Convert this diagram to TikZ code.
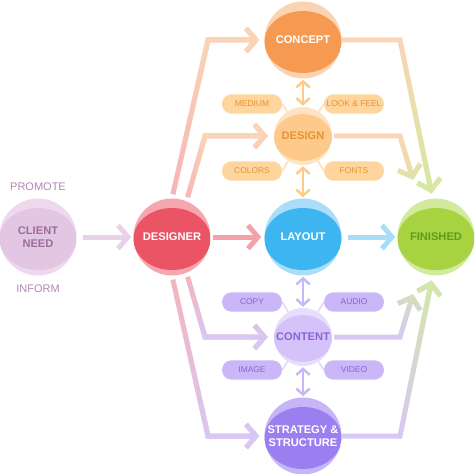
\documentclass[tikz,border=0pt]{standalone}
\usepackage{fontspec}
\setmainfont{Liberation Sans}
\usetikzlibrary{arrows.meta,backgrounds,fadings}

\definecolor{clientO}{HTML}{EDD8ED}
\definecolor{clientI}{HTML}{E2C6E2}
\definecolor{clientT}{HTML}{9E6D9E}
\definecolor{designerO}{HTML}{F5A7AF}
\definecolor{designerI}{HTML}{EA5464}
\definecolor{conceptO}{HTML}{FCD3B0}
\definecolor{conceptI}{HTML}{F69A52}
\definecolor{designO}{HTML}{FEE4C4}
\definecolor{designI}{HTML}{FDCA8C}
\definecolor{designT}{HTML}{E69433}
\definecolor{layoutO}{HTML}{ABDDF8}
\definecolor{layoutI}{HTML}{3DB5F0}
\definecolor{contentO}{HTML}{E8DEFB}
\definecolor{contentI}{HTML}{D4C3F8}
\definecolor{contentT}{HTML}{8A63D6}
\definecolor{strategyO}{HTML}{C6B6F8}
\definecolor{strategyI}{HTML}{9B7FF1}
\definecolor{finishedO}{HTML}{D2EA9E}
\definecolor{finishedI}{HTML}{A6D33F}
\definecolor{finishedT}{HTML}{5F9C1C}
\definecolor{pillOr}{HTML}{FDD59D}
\definecolor{pillPu}{HTML}{CAB7F8}
\definecolor{sideT}{HTML}{B586B5}
\definecolor{flowClient}{HTML}{E8D2EA}
\definecolor{flowRed}{HTML}{F4A2AA}
\definecolor{flowPink}{HTML}{F6B4B8}
\definecolor{flowPeach}{HTML}{FCD5B5}
\definecolor{flowLav}{HTML}{D8C8F6}
\definecolor{flowGreen}{HTML}{D3EAA2}
\definecolor{flowBlue}{HTML}{A9DCF8}

\tikzset{
	bub/.style 2 args={circle, inner sep=0pt, minimum size=23.1mm, fill=#1O, text=#2,
		align=center, font=\fontsize{9.5}{11}\selectfont\bfseries,
		path picture={\fill[#1I] ([yshift=-0.6mm]path picture bounding box.center)
			ellipse [x radius=11.55mm, y radius=9.3mm];}},
	smallbub/.style 2 args={circle, inner sep=0pt, minimum size=17.4mm, fill=#1O, text=#2,
		align=center, font=\fontsize{9.5}{11}\selectfont\bfseries,
		path picture={\fill[#1I] ([yshift=-0.45mm]path picture bounding box.center)
			ellipse [x radius=8.7mm, y radius=7mm];}},
	pill/.style 2 args={rectangle, rounded corners=2.85mm, minimum width=18mm,
		minimum height=5.8mm, inner sep=0pt, fill=#1, text=#2,
		font=\fontsize{7.2}{8}\selectfont},
	side/.style={text=sideT, font=\fontsize{9.4}{11}\selectfont},
	flow/.style={line width=1.5mm, -{Straight Barb[length=3mm, width=7mm]}},
	dbl/.style={line width=0.75mm, {Straight Barb[length=1.8mm, width=4mm]}-{Straight Barb[length=1.8mm, width=4mm]},
		shorten <=0.3mm, shorten >=0.3mm},
	tie/.style={line width=0.6mm}
}

% two coloured copies of one path, the second faded in
\newcommand\flowline[5]{%
	\draw[flow,#1,#4] #5;
	\draw[flow,#2,#4,path fading=#3] #5;}

\begin{document}
\begin{tikzpicture}[x=0.3mm, y=-0.3mm]
	\useasboundingbox (0,0) rectangle (474,474);
	
	% circles
	\node[bub={client}{clientT}] (client) at (38,237) {CLIENT\\NEED};
	\node[bub={designer}{white}] (designer) at (172,237) {DESIGNER};
	\node[bub={concept}{white}] (concept) at (303,40) {CONCEPT};
	\node[smallbub={design}{designT}] (design) at (303,136) {DESIGN};
	\node[bub={layout}{white}] (layout) at (303,237) {LAYOUT};
	\node[smallbub={content}{contentT}] (content) at (303,337) {CONTENT};
	\node[bub={strategy}{white}] (strategy) at (303,436) {STRATEGY \&\\STRUCTURE};
	\node[bub={finished}{finishedT}] (finished) at (436,237) {FINISHED};
	
	\node[side] (promote) at (38,187) {PROMOTE};
	\node[side] (inform) at (38,289) {INFORM};
	
	% pills
	\node[pill={pillOr}{designT}] (medium) at (252,104) {MEDIUM};
	\node[pill={pillOr}{designT}] (look) at (354,104) {LOOK \& FEEL};
	\node[pill={pillOr}{designT}] (colors) at (252,171) {COLORS};
	\node[pill={pillOr}{designT}] (fonts) at (354,171) {FONTS};
	\node[pill={pillPu}{contentT}] (copy) at (252,302) {COPY};
	\node[pill={pillPu}{contentT}] (audio) at (354,302) {AUDIO};
	\node[pill={pillPu}{contentT}] (image) at (252,370) {IMAGE};
	\node[pill={pillPu}{contentT}] (video) at (354,370) {VIDEO};
	
	\begin{scope}[on background layer]
		\draw[tie, designO] (medium.east) -- (design);
		\draw[tie, designO] (look.west) -- (design);
		\draw[tie, designO] (colors.east) -- (design);
		\draw[tie, designO] (fonts.west) -- (design);
		\draw[tie, contentO] (copy.east) -- (content);
		\draw[tie, contentO] (audio.west) -- (content);
		\draw[tie, contentO] (image.east) -- (content);
		\draw[tie, contentO] (video.west) -- (content);
	\end{scope}
	
	% up and down
	\draw[dbl, designI] (concept) -- (design);
	\draw[dbl, designI] (design) -- (layout);
	\draw[dbl, pillPu] (layout) -- (content);
	\draw[dbl, pillPu] (content) -- (strategy);
	
	% bends
	\coordinate (lc1) at (208,40);
	\coordinate (lc2) at (205,136);
	\coordinate (lc3) at (205,337);
	\coordinate (lc4) at (208,436);
	\coordinate (rc1) at (400,40);
	\coordinate (rc2) at (400,136);
	\coordinate (rc3) at (400,337);
	\coordinate (rc4) at (400,436);
	
	% straight row
	\draw[flow, flowClient, shorten <=1.8mm, shorten >=0.6mm] (client) -- (designer);
	\draw[flow, flowRed, shorten <=0.6mm, shorten >=0.9mm] (designer) -- (layout);
	\draw[flow, flowBlue, shorten <=1.8mm, shorten >=0.6mm] (layout) -- (finished);
	
	% out of designer
	\flowline{flowPink}{flowPeach}{south}{shorten <=1.2mm, shorten >=1.5mm}{(designer.90) -- (lc1) -- (concept)}
	\flowline{flowPink}{flowPeach}{south}{shorten <=1.2mm, shorten >=1.8mm}{(designer.68) -- (lc2) -- (design)}
	\flowline{flowPink}{flowLav}{north}{shorten <=1.2mm, shorten >=1.8mm}{(designer.292) -- (lc3) -- (content)}
	\flowline{flowPink}{flowLav}{north}{shorten <=1.2mm, shorten >=1.5mm}{(designer.270) -- (lc4) -- (strategy)}
	
	% into finished
	\flowline{flowPeach}{flowGreen}{north}{shorten >=1.5mm}{(concept) -- (rc1) -- (finished.95)}
	\flowline{flowPeach}{flowGreen}{north}{shorten <=0.6mm, shorten >=6.9mm}{(design) -- (rc2) -- (finished.115)}
	\flowline{flowLav}{flowGreen}{south}{shorten <=0.6mm, shorten >=6.9mm}{(content) -- (rc3) -- (finished.245)}
	\flowline{flowLav}{flowGreen}{south}{shorten >=1.5mm}{(strategy) -- (rc4) -- (finished.265)}
	
\end{tikzpicture}
\end{document}
